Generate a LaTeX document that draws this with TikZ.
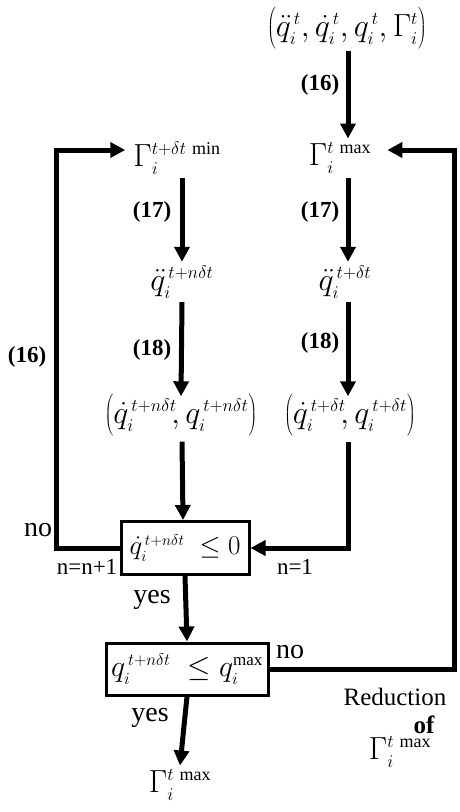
\RequirePackage{fix-cm}
\documentclass[tikz,border=0pt]{standalone}
\usepackage{fontspec}
\setmainfont{Liberation Serif}
\newfontfamily\tnr{Liberation Serif}
\usetikzlibrary{arrows.meta}
\DeclareMathSizes{32}{32}{18}{13}
\DeclareMathSizes{30}{30}{17}{12}
\DeclareMathSizes{27}{27}{15.5}{11}
\newcommand{\dtt}{\delta t}
\newcommand{\tallstrut}{\vrule height 22pt depth 14pt width 0pt}
\begin{document}
\begin{tikzpicture}[x=1pt,y=-1pt,
  arr/.style={line width=5pt, -{Triangle[length=15pt,width=15pt]}},
  lbl/.style={font=\tnr\fontsize{23}{26}\selectfont\bfseries, inner sep=0pt},
  txt/.style={font=\tnr\fontsize{28}{30}\selectfont, inner sep=0pt},
  sml/.style={font=\tnr\fontsize{23}{26}\selectfont, inner sep=0pt},
  mth/.style={font=\fontsize{32}{36}\selectfont, inner sep=0pt},
  box/.style={draw, line width=3pt, inner sep=0pt}]
\useasboundingbox (0,0) rectangle (460,812);
\node[mth] (top) at (347,29) {$\left(\tallstrut\ddot q_i^{\,t},\dot q_i^{\,t},q_i^{\,t},\Gamma_i^{t}\right)$};
\node[mth] (gmax) at (340,158) {$\Gamma_i^{t\,\max}$};
\node[mth] (gmin) at (177,158) {$\Gamma_i^{t+\dtt\,\min}$};
\node[mth] (qddn) at (182,282) {$\ddot q_i^{\,t+n\dtt}$};
\node[mth] (qddr) at (345,282) {$\ddot q_i^{\,t+\dtt}$};
\node[mth] (pn) at (181,416) {$\left(\tallstrut\dot q_i^{\,t+n\dtt}\!,q_i^{\,t+n\dtt}\right)$};
\node[mth] (pr) at (350,416) {$\left(\tallstrut\dot q_i^{\,t+\dtt}\!,q_i^{\,t+\dtt}\right)$};
\node[box, font=\fontsize{27}{32}\selectfont, minimum width=128pt, minimum height=53pt] (b1) at (185,548) {$\dot q_i^{\,t+n\dtt}\;\le 0$};
\node[box, font=\fontsize{30}{34}\selectfont, minimum width=162pt, minimum height=52pt] (b2) at (187,669) {$q_i^{\,t+n\dtt}\;\le q_i^{\max}$};
\node[mth] (gout) at (180,785) {$\Gamma_i^{t\,\max}$};
% labels
\node[lbl] (l16a) at (320,85) {(16)};
\node[lbl] (l17a) at (152,212) {(17)};
\node[lbl] (l17b) at (320,212) {(17)};
\node[lbl] (l18a) at (152,350) {(18)};
\node[lbl] (l18b) at (320,343) {(18)};
\node[lbl] (l16b) at (27,357) {(16)};
\node[txt] (no1) at (38,530) {no};
\node[sml] (nn1) at (87,567) {n=n+1};
\node[sml] (n1) at (295,567) {n=1};
\node[txt] (yes1) at (152,600) {yes};
\node[txt] (no2) at (290,652) {no};
\node[txt] (yes2) at (150,718) {yes};
\node[txt, font=\tnr\fontsize{25}{28}\selectfont] (red) at (395,697) {Reduction};
\node[txt, font=\tnr\fontsize{25}{28}\selectfont\bfseries] (of) at (424,725) {of};
\node[mth] (gred) at (400,752) {$\Gamma_i^{t\,\max}$};
% connectors
\draw[arr] ([xshift=1pt]top.south) -- ([xshift=8pt,yshift=4pt]gmax.north);
\draw[arr] ([xshift=8pt,yshift=-4pt]gmax.south) -- ([xshift=3pt,yshift=4pt]qddr.north);
\draw[arr] ([xshift=5pt,yshift=-4pt]gmin.south) -- ([yshift=4pt]qddn.north);
\draw[arr] ([xshift=3pt,yshift=-4pt]qddr.south) -- ([xshift=-2pt,yshift=-2pt]pr.north);
\draw[arr] ([yshift=-4pt]qddn.south) -- ([yshift=-2pt]pn.north);
\draw[arr] ([xshift=1pt,yshift=-4pt]pn.south) -- ([xshift=-2pt]b1.north);
\draw[arr] ([xshift=-2pt,yshift=-4pt]pr.south) |- (b1.east);
\draw[arr] (b1.west) -- ++(-63,0) |- ([xshift=-8pt,yshift=8pt]gmin.west);
\draw[arr] (b1.south) -- (b2.north);
\draw[arr] (b2.east) -- ++(185,0) |- ([xshift=16pt,yshift=8pt]gmax.east);
\draw[arr] (b2.south) -- ([yshift=4pt]gout.north);
\end{tikzpicture}
\end{document}
